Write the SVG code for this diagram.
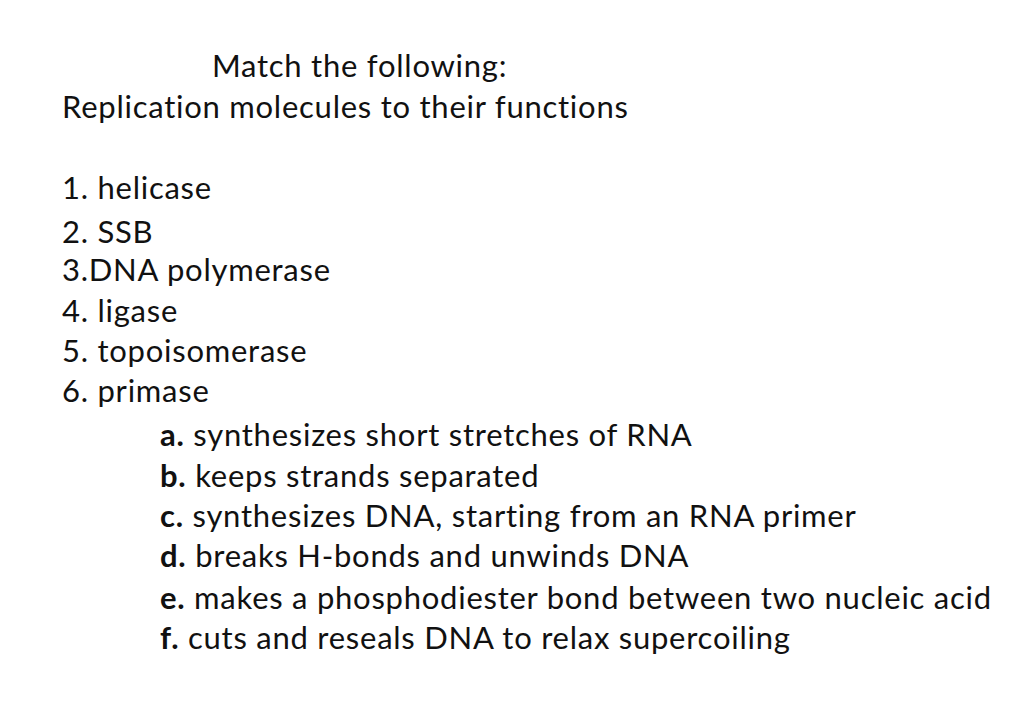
<svg xmlns="http://www.w3.org/2000/svg" width="1018" height="726" viewBox="0 0 1018 726">
<style>
text{font-family:Lato,"Open Sans",sans-serif;font-size:31px;fill:#111;letter-spacing:0.75px}
.b{font-weight:bold}
</style>
<rect width="1018" height="726" fill="#fff"/>
<g id="title">
<text x="212" y="77">Match the following:</text>
<text x="62" y="118">Replication molecules to their functions</text>
</g>
<g id="molecules">
<text x="62" y="199">1. helicase</text>
<text x="62" y="243">2. SSB</text>
<text x="62" y="281">3.DNA polymerase</text>
<text x="62" y="322">4. ligase</text>
<text x="62" y="362">5. topoisomerase</text>
<text x="62" y="402">6. primase</text>
</g>
<g id="functions">
<text x="160" y="446"><tspan class="b">a.</tspan> synthesizes short stretches of RNA</text>
<text x="160" y="487"><tspan class="b">b.</tspan> keeps strands separated</text>
<text x="160" y="527"><tspan class="b">c.</tspan> synthesizes DNA, starting from an RNA primer</text>
<text x="160" y="567"><tspan class="b">d.</tspan> breaks H-bonds and unwinds DNA</text>
<text x="160" y="609"><tspan class="b">e.</tspan> makes a phosphodiester bond between two nucleic acid</text>
<text x="160" y="649"><tspan class="b">f.</tspan> cuts and reseals DNA to relax supercoiling</text>
</g>
</svg>
